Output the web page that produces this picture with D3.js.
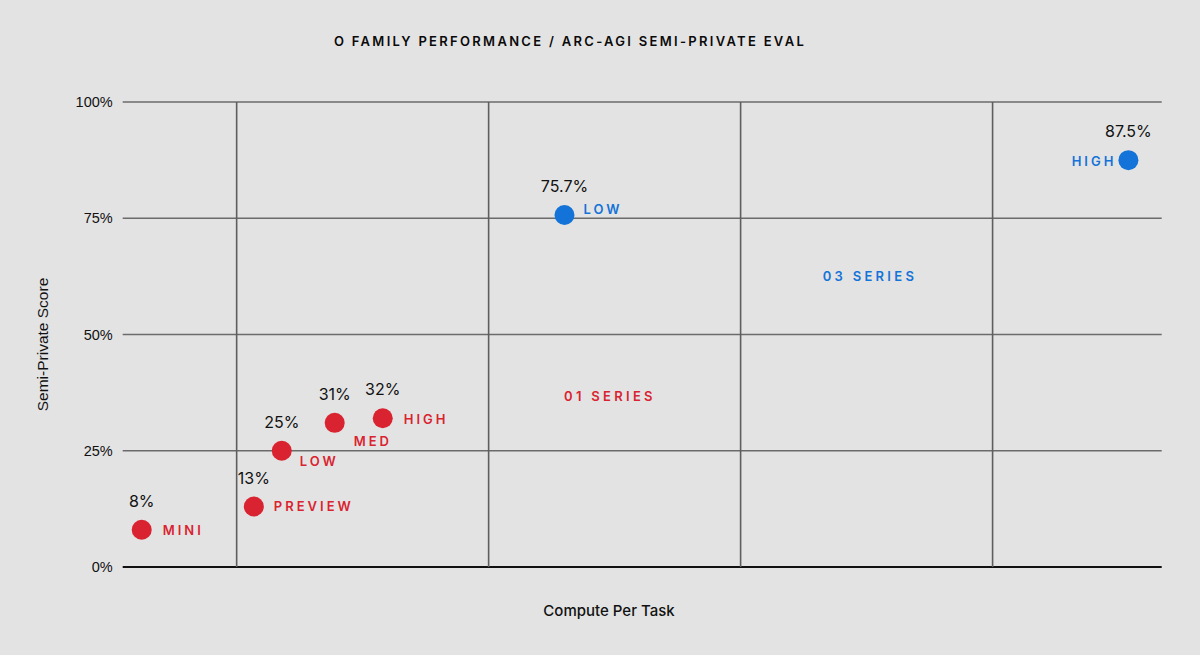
<!DOCTYPE html>
<html>
<head>
<meta charset="utf-8">
<script src="https://cdn.jsdelivr.net/npm/d3@7"></script>
<style>
  body { margin: 0; background: #e3e3e3; }
  svg { display: block; }
</style>
</head>
<body>
<div id="chart"></div>
<script>
// values
var models = ["MINI", "PREVIEW", "LOW", "MED", "HIGH", "LOW", "HIGH"];
var family = ["o1", "o1", "o1", "o1", "o1", "o3", "o3"];
var compute = [0.42, 1.17, 1.51, 2.45, 3.8, 20, 3460];   // $ per task, log axis
var scores = [8, 13, 25, 31, 32, 75.7, 87.5];
var scoreText = ["8%", "13%", "25%", "31%", "32%", "75.7%", "87.5%"];

var yTicks = [0, 25, 50, 75, 100];
var xGrid = [1, 10, 100, 1000];

var seriesNames = ["01 SERIES", "03 SERIES"];
var seriesCompute = [30.3, 326];
var seriesScore = [36.8, 62.6];

// where each model name sits relative to its dot
var nameOffset = [[21, 1], [20, 0], [18, 11], [19, 18], [21, 1], [19, -6], [-12, 1]];

var W = 1200, H = 655;
var red = "#da2330", blue = "#1373d8";
var colour = function(f) { return f === "o1" ? red : blue; };

var svg = d3.select("#chart")
            .append("svg")
            .attr("width", W)
            .attr("height", H)
            .style("background", "#e3e3e3");

var x = d3.scaleLog()
    .domain([0.353, 4690])
    .range([122.7, 1161.7]);

var y = d3.scaleLinear()
    .domain([0, 100])
    .range([567, 102]);

// title
svg.append("text")
    .attr("x", 570)
    .attr("y", 46)
    .attr("text-anchor", "middle")
    .style("font-family", "Inter, 'Liberation Sans', sans-serif")
    .style("font-size", "13px")
    .style("font-weight", 600)
    .style("letter-spacing", "2.3px")
    .style("fill", "#0a0a0a")
    .text("O FAMILY PERFORMANCE / ARC-AGI SEMI-PRIVATE EVAL");

// horizontal grid + y ticks
svg.append("g")
    .selectAll("line")
    .data(yTicks)
    .enter()
    .append("line")
    .attr("x1", x.range()[0])
    .attr("x2", x.range()[1])
    .attr("y1", function(d) { return y(d); })
    .attr("y2", function(d) { return y(d); })
    .style("stroke", function(d) { return d === 0 ? "#111" : "#6b6b6b"; })
    .style("stroke-width", function(d) { return d === 0 ? 2 : 1.6; });

svg.append("g")
    .selectAll("text")
    .data(yTicks)
    .enter()
    .append("text")
    .attr("x", x.range()[0] - 10)
    .attr("y", function(d) { return y(d); })
    .attr("dy", "0.36em")
    .attr("text-anchor", "end")
    .style("font-family", "'Liberation Sans', Arial, sans-serif")
    .style("font-size", "14.5px")
    .style("fill", "#111")
    .text(function(d) { return d + "%"; });

// vertical grid
svg.append("g")
    .selectAll("line")
    .data(xGrid)
    .enter()
    .append("line")
    .attr("x1", function(d) { return x(d); })
    .attr("x2", function(d) { return x(d); })
    .attr("y1", y(100))
    .attr("y2", y(0))
    .style("stroke", "#5e5e5e")
    .style("stroke-width", 1.6);

// axis titles
svg.append("text")
    .attr("x", 609)
    .attr("y", 616)
    .attr("text-anchor", "middle")
    .style("font-family", "Inter, 'Liberation Sans', sans-serif")
    .style("font-size", "15px")
    .style("font-weight", 500)
    .style("fill", "#111")
    .text("Compute Per Task");

svg.append("text")
    .attr("transform", "translate(48," + (y(50) + 10) + ") rotate(-90)")
    .attr("text-anchor", "middle")
    .style("font-family", "'Liberation Sans', Arial, sans-serif")
    .style("font-size", "15.5px")
    .style("fill", "#111")
    .text("Semi-Private Score");

// series labels
svg.append("g")
    .selectAll("text")
    .data(seriesNames)
    .enter()
    .append("text")
    .attr("x", function(d, i) { return x(seriesCompute[i]); })
    .attr("y", function(d, i) { return y(seriesScore[i]); })
    .attr("dy", "0.36em")
    .attr("text-anchor", "middle")
    .style("font-family", "Inter, 'Liberation Sans', sans-serif")
    .style("font-size", "13px")
    .style("font-weight", 600)
    .style("letter-spacing", "3.3px")
    .style("fill", function(d, i) { return i === 0 ? red : blue; })
    .text(function(d) { return d; });

// points
var pts = svg.append("g")
    .selectAll("g")
    .data(models)
    .enter()
    .append("g")
    .attr("transform", function(d, i) {
        return "translate(" + x(compute[i]) + "," + y(scores[i]) + ")";
    });

pts.append("circle")
    .attr("r", 10)
    .style("fill", function(d, i) { return colour(family[i]); });

pts.append("text")
    .attr("y", -23)
    .attr("text-anchor", "middle")
    .style("font-family", "Inter, 'Liberation Sans', sans-serif")
    .style("font-size", "16px")
    .style("fill", "#111")
    .text(function(d, i) { return scoreText[i]; });

pts.append("text")
    .attr("x", function(d, i) { return nameOffset[i][0]; })
    .attr("y", function(d, i) { return nameOffset[i][1]; })
    .attr("dy", "0.36em")
    .attr("text-anchor", function(d, i) { return nameOffset[i][0] < 0 ? "end" : "start"; })
    .style("font-family", "Inter, 'Liberation Sans', sans-serif")
    .style("font-size", "13px")
    .style("font-weight", 600)
    .style("letter-spacing", "3px")
    .style("fill", function(d, i) { return colour(family[i]); })
    .text(function(d) { return d; });
</script>
</body>
</html>
